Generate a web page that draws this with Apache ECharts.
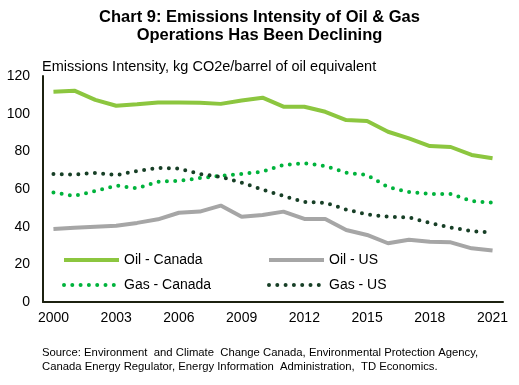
<!DOCTYPE html>
<html>
<head>
<meta charset="utf-8">
<script src="https://cdn.jsdelivr.net/npm/echarts@6/dist/echarts.min.js"></script>
<style>
html,body{margin:0;padding:0;background:#fff;}
#chart{width:519px;height:385px;}
</style>
</head>
<body>
<div id="chart"></div>
<script>
var years = ['2000','2001','2002','2003','2004','2005','2006','2007','2008','2009','2010','2011','2012','2013','2014','2015','2016','2017','2018','2019','2020','2021'];
var oilCanada = [111.7,112.2,107.3,104.2,105.0,105.9,105.9,105.8,105.2,107.0,108.5,103.7,103.7,101.0,96.6,96.1,90.4,86.9,82.8,82.3,78.1,76.3];
var oilUS = [38.8,39.4,40.0,40.5,42.0,43.9,47.4,48.0,51.2,45.3,46.2,48.0,44.1,44.1,38.2,35.6,31.2,33.1,32.0,31.7,28.5,27.3];
var gasCanada = [58.2,56.3,59.0,61.8,60.4,63.9,64.3,65.8,67.0,68.0,69.2,72.8,73.7,72.2,68.7,67.4,61.0,58.4,57.4,57.4,53.6,52.7];
var gasUS = [68.0,67.7,68.5,67.4,69.6,71.2,70.9,68.0,66.4,63.4,59.7,56.3,53.1,52.7,49.1,46.5,45.3,44.9,42.0,39.5,37.7,36.8];
var yTicks = [0,20,40,60,80,100,120];

var FONT = 'Liberation Sans, Arial, sans-serif';
var dot = [0, 8.3];
var solidLeg = {width: 4};
var dotLeg = {width: 4, type: dot, cap: 'round'};
var chart = echarts.init(document.getElementById('chart'), null, {renderer:'canvas'});
var legendCommon = {orient: 'vertical', top: 248, itemWidth: 55, itemHeight: 14, itemGap: 11,
  itemStyle: {opacity: 0}, textStyle: {fontFamily: FONT, fontSize: 14, color: '#000'}};
chart.setOption({
  animation: false,
  backgroundColor: '#fff',
  title: [
    {text: 'Chart 9: Emissions Intensity of Oil & Gas\nOperations Has Been Declining', left: 'center', top: 3,
     textStyle: {fontFamily: FONT, fontSize: 16.5, fontWeight: 'bold', color: '#000', lineHeight: 18}},
    {text: 'Emissions Intensity, kg CO2e/barrel of oil equivalent', left: 37, top: 54,
     textStyle: {fontFamily: FONT, fontSize: 14.5, fontWeight: 'normal', color: '#000'}},
    {text: 'Source: Environment  and Climate  Change Canada, Environmental Protection Agency,\nCanada Energy Regulator, Energy Information  Administration,  TD Economics.', left: 37, top: 341,
     textStyle: {fontFamily: FONT, fontSize: 11.3, fontWeight: 'normal', color: '#000', lineHeight: 14}}
  ],
  legend: [
    Object.assign({data: [{name: 'Oil - Canada', lineStyle: solidLeg}, {name: 'Gas - Canada', lineStyle: dotLeg}], left: 57}, legendCommon),
    Object.assign({data: [{name: 'Oil - US', lineStyle: solidLeg}, {name: 'Gas - US', lineStyle: dotLeg}], left: 262}, legendCommon)
  ],
  grid: {left: 43, right: 16, top: 76, bottom: 83, containLabel: false},
  xAxis: {
    type: 'category', data: years, boundaryGap: true,
    axisLine: {lineStyle: {color: '#1c2110', width: 2}},
    axisTick: {show: false},
    axisLabel: {interval: 2, fontFamily: FONT, fontSize: 14, color: '#000', margin: 9}
  },
  yAxis: {
    type: 'value', min: yTicks[0], max: yTicks[yTicks.length-1], interval: 20,
    axisLine: {show: true, lineStyle: {color: '#1c2110', width: 2}},
    axisTick: {show: false},
    splitLine: {show: false},
    axisLabel: {fontFamily: FONT, fontSize: 14, color: '#000', margin: 13}
  },
  series: [
    {name: 'Oil - Canada', type: 'line', data: oilCanada, showSymbol: false, symbol: 'none', color: '#8CC63F',
     lineStyle: {color: '#8CC63F', width: 4}},
    {name: 'Oil - US', type: 'line', data: oilUS, showSymbol: false, symbol: 'none', color: '#A6A6A6',
     lineStyle: {color: '#A6A6A6', width: 4}},
    {name: 'Gas - Canada', type: 'line', data: gasCanada, showSymbol: false, symbol: 'none', color: '#00B33C',
     lineStyle: {color: '#00B33C', width: 4, type: dot, cap: 'round'}},
    {name: 'Gas - US', type: 'line', data: gasUS, showSymbol: false, symbol: 'none', color: '#173F26',
     lineStyle: {color: '#173F26', width: 4, type: dot, cap: 'round'}}
  ]
});
</script>
</body>
</html>
